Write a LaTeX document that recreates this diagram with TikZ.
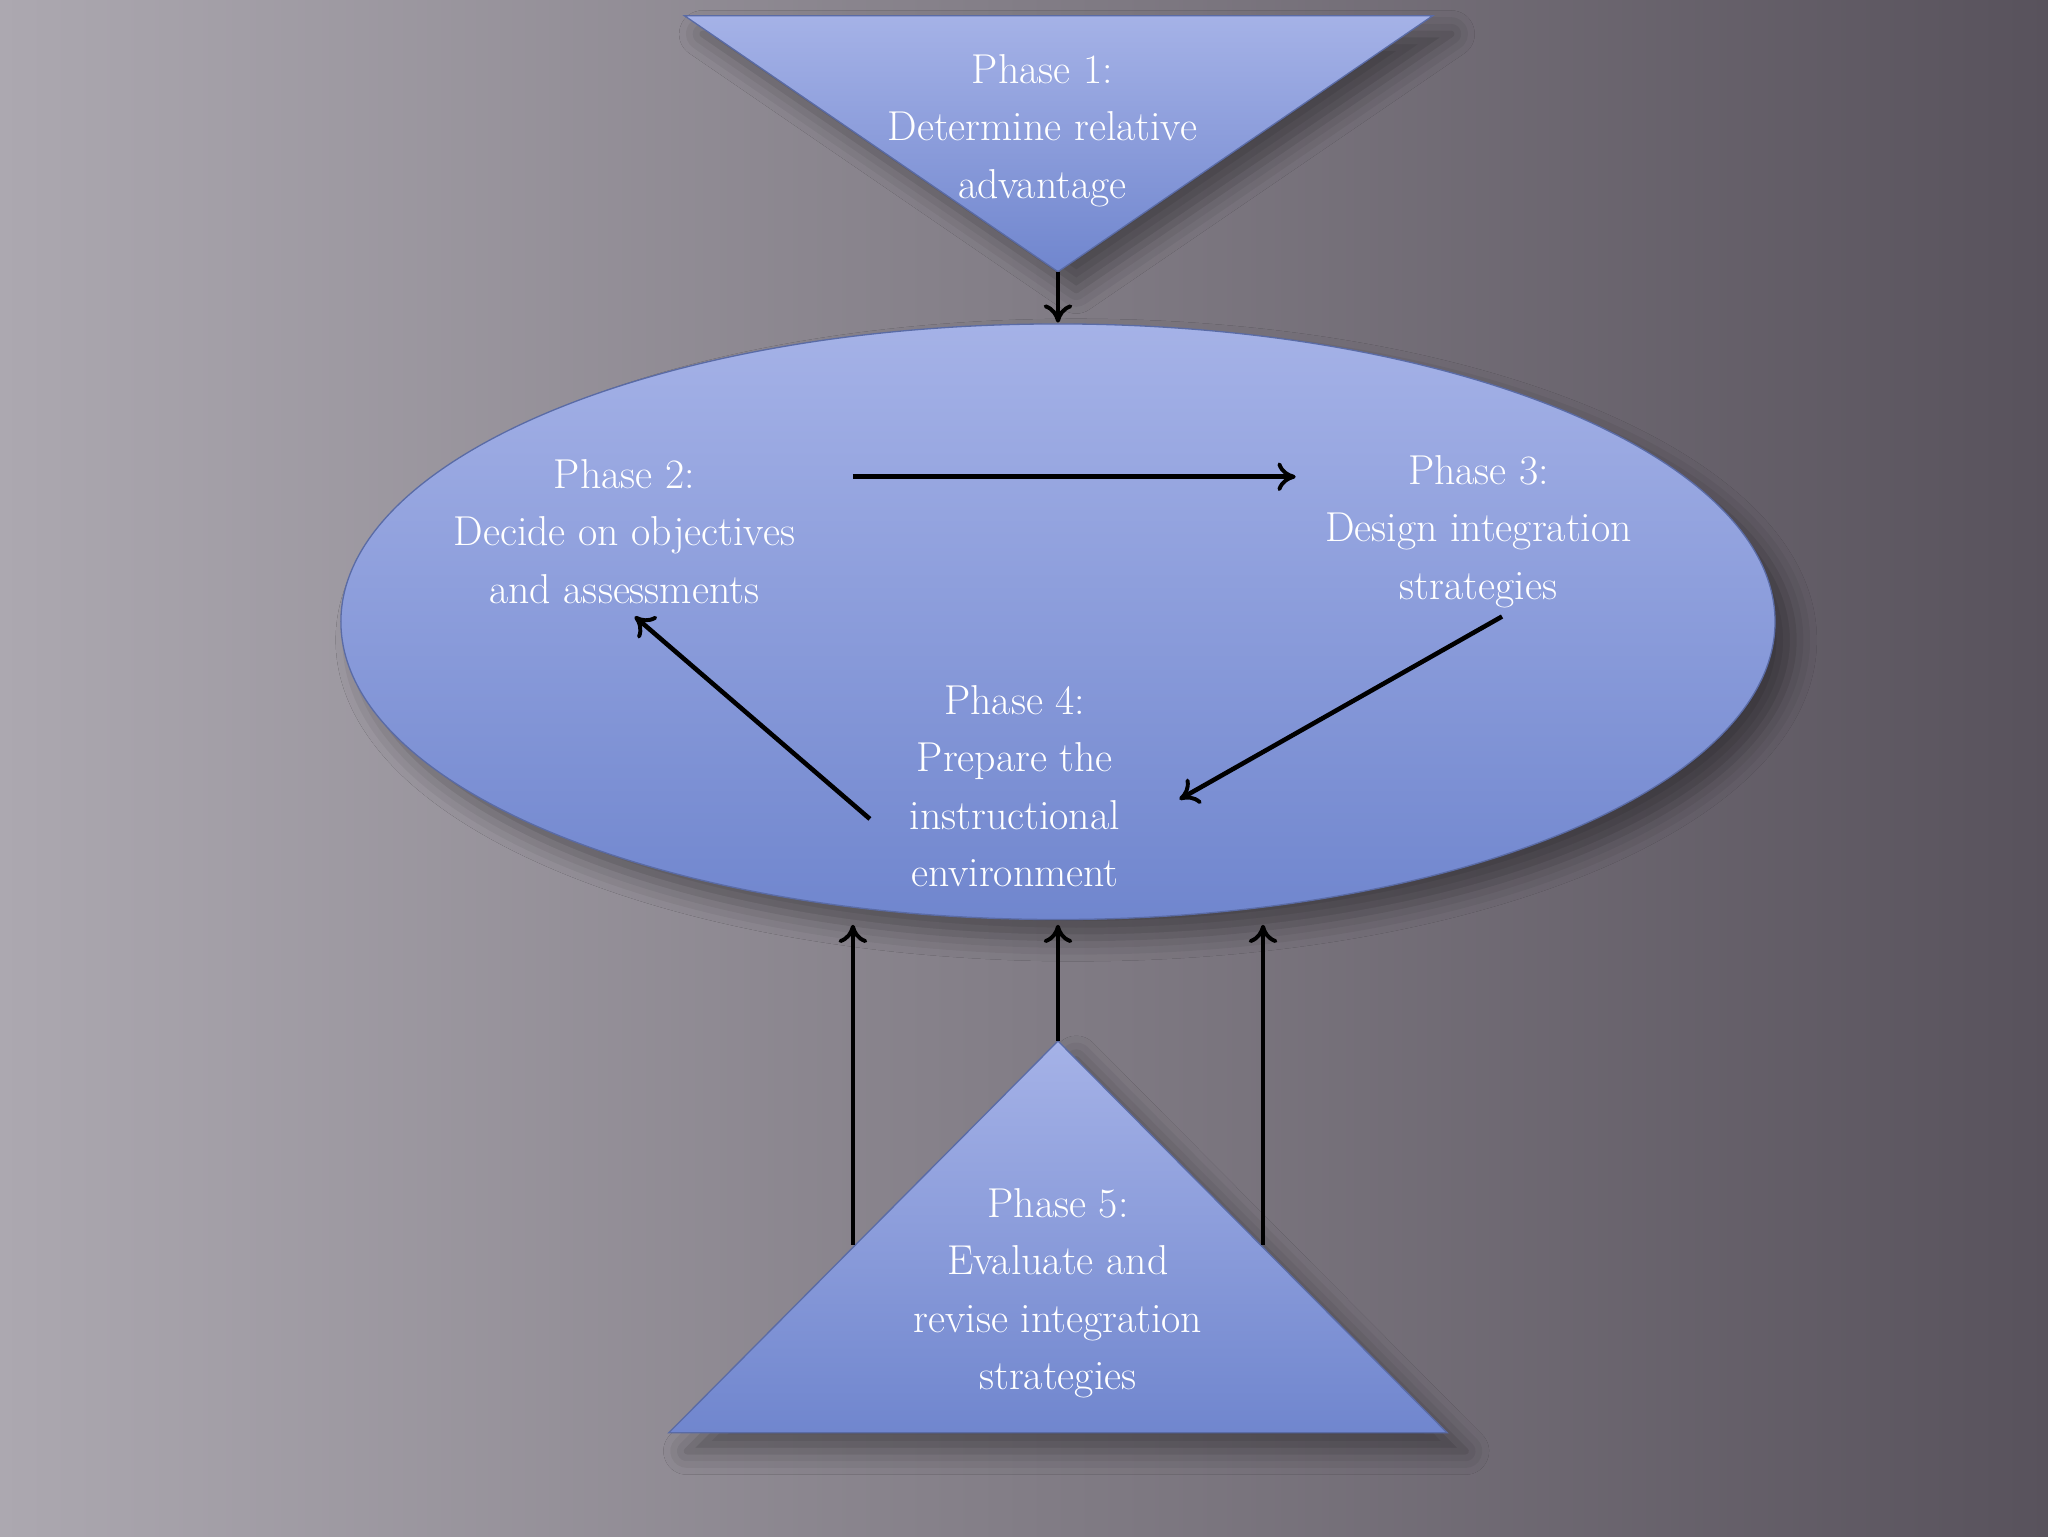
\documentclass[tikz,border=0pt]{standalone}
\usetikzlibrary{arrows.meta,shadows.blur}
\definecolor{blite}{RGB}{165,178,231}
\definecolor{bdark}{RGB}{112,134,206}
\begin{document}
\begin{tikzpicture}[x=1pt,y=-1pt,
  blueshape/.style={draw=bdark!80!black, line width=1pt, top color=blite, bottom color=bdark, blur shadow={shadow xshift=14pt,shadow yshift=-14pt,shadow blur radius=18pt,shadow opacity=40}},
  lbl/.style={text=white, align=center, font=\fontsize{32}{44}\selectfont},
  arr/.style={-{To[length=14pt,width=22pt,line width=3pt]}, line width=3.5pt, black}]
\useasboundingbox (0,0) rectangle (1568,1176);
\shade[left color={rgb,255:red,172;green,168;blue,176}, right color={rgb,255:red,88;green,82;blue,92}] (0,0) rectangle (1568,1176);
% shapes
\path[blueshape] (524,12) -- (1097,12) -- (810,208) -- cycle;
\path[blueshape] (810,476) ellipse [x radius=549, y radius=228];
\path[blueshape] (810,797) -- (1108,1097) -- (512,1097) -- cycle;
% labels
\node[lbl] (p1) at (798,100) {Phase 1:\\Determine relative\\advantage};
\node[lbl] (p2) at (478,407) {Phase 2:\\Decide on objectives\\and assessments};
\node[lbl] (p3) at (1132,407) {Phase 3:\\Design integration\\strategies};
\node[lbl] (p4) at (777,602) {Phase 4:\\Prepare the\\instructional\\environment};
\node[lbl] (p5) at (810,990) {Phase 5:\\Evaluate and\\revise integration\\strategies};
% anchor points
\coordinate (t1) at (810,208); \coordinate (e1) at (810,247);
\coordinate (a2) at (653,365); \coordinate (a3) at (992,365);
\coordinate (b3) at (1150,472); \coordinate (b4) at (903,612);
\coordinate (c4) at (666,627); \coordinate (c2) at (486,472);
\coordinate (l5) at (653,953); \coordinate (le) at (653,708);
\coordinate (m5) at (810,797); \coordinate (me) at (810,708);
\coordinate (r5) at (967,953); \coordinate (re) at (967,708);
\draw[arr] (t1) -- (e1);
\draw[arr] (a2) -- (a3);
\draw[arr] (b3) -- (b4);
\draw[arr] (c4) -- (c2);
\draw[arr] (l5) -- (le);
\draw[arr] (m5) -- (me);
\draw[arr] (r5) -- (re);
\end{tikzpicture}
\end{document}
